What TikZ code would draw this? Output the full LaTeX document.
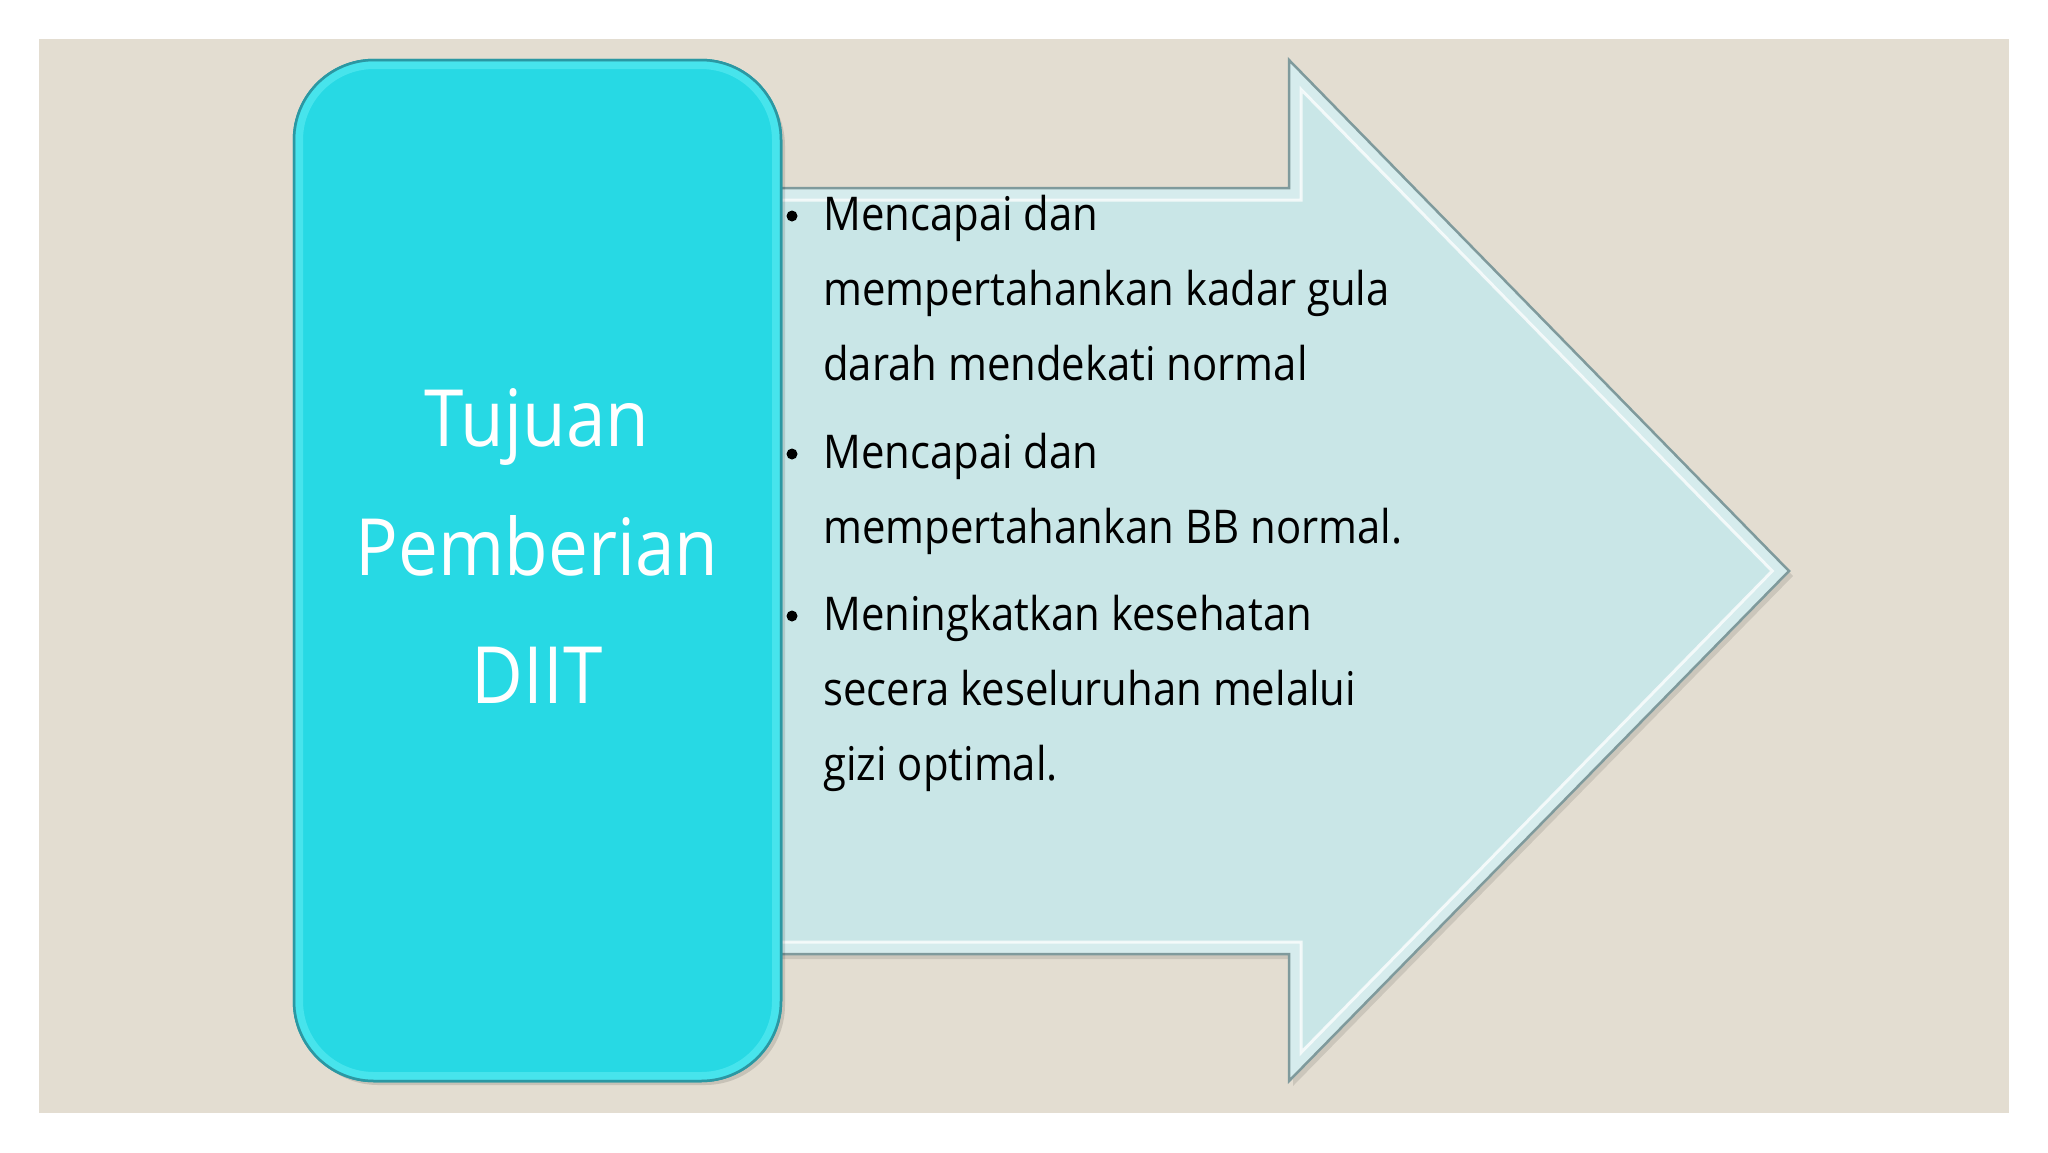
\documentclass[tikz,border=0pt]{standalone}
\usepackage{fontspec}
\setmainfont{Open Sans}
\newfontfamily\titlefont[FakeStretch=0.9]{Open Sans}
\newfontfamily\bodyfont[FakeStretch=0.9]{Open Sans}
\definecolor{bgbeige}{HTML}{E3DDD1}
\definecolor{boxcyan}{HTML}{27D9E4}
\definecolor{boxlight}{HTML}{62EEF4}
\definecolor{boxedge}{HTML}{2A98A3}
\definecolor{arrowfill}{HTML}{C9E6E7}
\definecolor{arrowedge}{HTML}{7F9A9C}
\tikzset{
  titletext/.style={anchor=base, inner sep=0, text=white, font=\titlefont\fontsize{79}{128}\selectfont},
  bodytext/.style={anchor=base west, inner sep=0, text=black, font=\bodyfont\fontsize{46.5}{75}\selectfont},
  bulletdot/.style={circle, fill=black, inner sep=0, minimum size=11},
}
\begin{document}
\begin{tikzpicture}[x=1pt,y=-1pt]
\useasboundingbox (0,0) rectangle (2048,1152);
\fill[white] (0,0) rectangle (2048,1152);
\fill[bgbeige] (39,39) rectangle (2009,1113);
% arrow
\def\arrowpath{(700,188) -- (1289,188) -- (1289,60) -- (1789,571) -- (1289,1081) -- (1289,954) -- (700,954) -- cycle}
\fill[black, opacity=0.10, shift={(4,5)}] (700,188) -- (1289,188) -- (1289,60) -- (1789,571) -- (1289,1081) -- (1289,954) -- (700,954) -- cycle;
\fill[arrowfill] \arrowpath;
\begin{scope}
  \clip \arrowpath;
  \draw[line width=24, white, opacity=0.25] \arrowpath;
\end{scope}
\draw[white, opacity=0.75, line width=3, line join=miter] (700,200) -- (1301,200) -- (1301,89.4) -- (1772.2,571) -- (1301,1052.6) -- (1301,942) -- (700,942) -- cycle;
\draw[arrowedge, line width=2.5, line join=miter] \arrowpath;
% rounded box
\fill[black, opacity=0.12, rounded corners=80] (298,66) rectangle (785,1085);
\node[draw=boxedge, line width=2.5, fill=boxcyan, rounded corners=80, minimum width=487, minimum height=1021, inner sep=0] (box) at (537.5,570.5) {};
\begin{scope}
  \clip[rounded corners=80] (294,60) rectangle (781,1081);
  \draw[boxlight, line width=18, opacity=0.55, rounded corners=80] (294,60) rectangle (781,1081);
\end{scope}
\draw[boxedge, line width=2.5, rounded corners=80] (294,60) rectangle (781,1081);
% title
\node[titletext] (t1) at (537,446) {Tujuan};
\node[titletext] (t2) at (537,575) {Pemberian};
\node[titletext] (t3) at (537,703) {DIIT};
% bullets
\node[bulletdot] (b1) at (792,216) {};
\node[bodytext] (l1) at (823,230) {Mencapai dan};
\node[bodytext] (l2) at (823,305) {mempertahankan kadar gula};
\node[bodytext] (l3) at (823,380) {darah mendekati normal};
\node[bulletdot] (b2) at (792,454) {};
\node[bodytext] (l4) at (823,468) {Mencapai dan};
\node[bodytext] (l5) at (823,543) {mempertahankan BB normal.};
\node[bulletdot] (b3) at (792,616) {};
\node[bodytext] (l6) at (823,630) {Meningkatkan kesehatan};
\node[bodytext] (l7) at (823,705) {secera keseluruhan melalui};
\node[bodytext] (l8) at (823,780) {gizi optimal.};
\end{tikzpicture}
\end{document}
